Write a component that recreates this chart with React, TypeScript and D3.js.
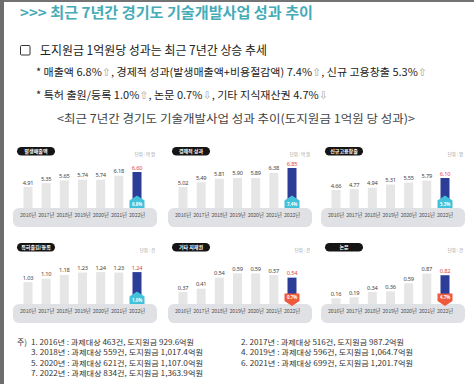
import React from "react";
import * as d3 from "d3";

const years = ["2016년", "2017년", "2018년", "2019년", "2020년", "2021년", "2022년"];

const salesValues = [4.91, 5.35, 5.65, 5.74, 5.74, 6.18, 6.6];
const economicValues = [5.02, 5.49, 5.81, 5.9, 5.89, 6.38, 6.85];
const jobValues = [4.66, 4.77, 4.94, 5.31, 5.55, 5.79, 6.1];
const patentValues = [1.03, 1.1, 1.18, 1.23, 1.24, 1.23, 1.24];
const ipValues = [0.37, 0.41, 0.54, 0.59, 0.59, 0.57, 0.54];
const paperValues = [0.16, 0.19, 0.34, 0.36, 0.59, 0.87, 0.82];

const panelLabels = ["발생매출액", "경제적 성과", "신규고용창출", "특허출원/등록", "기타 지재권", "논문"];
const panelUnits = ["단위 : 억 원", "단위 : 억 원", "단위 : 명", "단위 : 건", "단위 : 건", "단위 : 건"];
const changeLabels = ["6.8%", "7.4%", "5.3%", "1.0%", "0.7%", "4.7%"];
const changeUp = [true, true, true, true, false, false];
// lower / upper ends of each panel's value scale
const scaleFloors = [2.55, 3.0, 2.5, 0.57, 0.23, 0];
const scaleCeils = [7.05, 6.85, 7.3, 1.41, 0.7, 1.14];

const noteYears = ["2016년", "2017년", "2018년", "2019년", "2020년", "2021년", "2022년"];
const noteCounts = ["463", "516", "559", "596", "621", "699", "834"];
const noteFunds = ["929.6", "987.2", "1,017.4", "1,064.7", "1,107.0", "1,201.7", "1,363.9"];

const FONT = "'Noto Sans CJK KR', 'Noto Sans', sans-serif";
const NUM = "'Noto Sans', 'Noto Sans CJK KR', sans-serif";
const ARW = "'DejaVu Sans', sans-serif";

const BAND_TOP = 208;

function Panel({ idx, ox, oy, values }: { idx: number; ox: number; oy: number; values: number[] }) {
  const x = d3.scalePoint<string>().domain(years).range([28, 137]);
  const y = d3.scaleLinear().domain([scaleFloors[idx], scaleCeils[idx]]).range([BAND_TOP, 168]);
  const bw = 9;
  const last = values.length - 1;
  const up = changeUp[idx];
  const cx = x(years[last]) as number;

  return (
    <g transform={`translate(${ox},${oy})`}>
      <rect x={17} y={147} width={38} height={8.5} rx={4.25} fill="#151515" />
      <text x={36} y={153} fontSize={5} fill="#fff" textAnchor="middle" fontWeight={700} fontFamily={FONT}>
        {panelLabels[idx]}
      </text>
      <text x={155} y={156} fontSize={4.4} fill="#9a9a9a" textAnchor="end" fontFamily={FONT}>
        {panelUnits[idx]}
      </text>
      <rect x={13} y={BAND_TOP} width={144} height={19} rx={6} fill="#e0e1e5" />

      {values.slice(0, last).map((v, i) => (
        <g key={i}>
          <rect x={(x(years[i]) as number) - bw / 2} y={y(v)} width={bw} height={BAND_TOP - y(v)} fill="#e6e6e6" />
          <text x={x(years[i])} y={y(v) - 2.5} fontSize={5.7} fill="#444" textAnchor="middle" fontFamily={NUM} letterSpacing={-0.2}>
            {v.toFixed(2)}
          </text>
        </g>
      ))}

      <rect x={cx - bw / 2} y={y(values[last])} width={bw} height={(up ? 200 : 198) - y(values[last])} fill="#2c3d98" />
      <text x={cx} y={y(values[last]) - 2.5} fontSize={5.7} fill="#e2463b" textAnchor="middle" fontFamily={NUM} letterSpacing={-0.2}>
        {values[last].toFixed(2)}
      </text>

      {up ? (
        <polygon
          points={[[cx - 7.5, BAND_TOP], [cx - 7.5, 200.5], [cx, 195.5], [cx + 7.5, 200.5], [cx + 7.5, BAND_TOP]].map(p => p.join(",")).join(" ")}
          fill="#42c1db"
        />
      ) : (
        <polygon
          points={[[cx - 7.5, 197.5], [cx + 7.5, 197.5], [cx + 7.5, 205], [cx, 210], [cx - 7.5, 205]].map(p => p.join(",")).join(" ")}
          fill="#ee5a3c"
        />
      )}
      <text x={cx} y={up ? 206 : 203.3} fontSize={4.4} fill="#fff" textAnchor="middle" fontWeight={700} fontFamily={NUM}>
        {changeLabels[idx]}
      </text>

      {years.map(yr => (
        <text key={yr} x={x(yr)} y={216.7} fontSize={5.3} fill="#555" textAnchor="middle" fontFamily={FONT} letterSpacing={-0.15}>
          {yr}
        </text>
      ))}
    </g>
  );
}

export default function App() {
  const panelValues = [salesValues, economicValues, jobValues, patentValues, ipValues, paperValues];
  const colX = [0, 155, 308];
  const rowY = [0, 96];
  const upArrow = <tspan fill="#a8a8a8" fontFamily={ARW}>⇧</tspan>;
  const downArrow = <tspan fill="#a8a8a8" fontFamily={ARW}>⇩</tspan>;

  return (
    <svg width={474} height={384} style={{ position: "absolute", left: 0, top: 0, background: "#fff" }}>
      <rect x={0} y={0} width={474} height={384} fill="#fff" />
      <rect x={0} y={0} width={474} height={2} fill="#737373" />
      <rect x={0} y={0} width={4} height={384} fill="#6d6d6d" />

      <text x={20} y={18} fontSize={14.5} fontWeight={700} fill="#45abb7" fontFamily={FONT} textLength={293} lengthAdjust="spacingAndGlyphs">
        {">>> 최근 7년간 경기도 기술개발사업 성과 추이"}
      </text>

      <rect x={20.5} y={45.5} width={9.5} height={9.5} rx={1} fill="none" stroke="#333" strokeWidth={1} />
      <text x={40} y={55} fontSize={12.5} fill="#222" fontFamily={FONT} textLength={227} lengthAdjust="spacingAndGlyphs">
        도지원금 1억원당 성과는 최근 7년간 상승 추세
      </text>

      <text x={36} y={76} fontSize={10.5} fill="#222" fontFamily={FONT} textLength={391} lengthAdjust="spacingAndGlyphs">
        * 매출액 6.8%{upArrow}, 경제적 성과(발생매출액+비용절감액) 7.4%{upArrow}, 신규 고용창출 5.3%{upArrow}
      </text>
      <text x={36} y={99} fontSize={10.5} fill="#222" fontFamily={FONT} textLength={292} lengthAdjust="spacingAndGlyphs">
        * 특허 출원/등록 1.0%{upArrow}, 논문 0.7%{downArrow}, 기타 지식재산권 4.7%{downArrow}
      </text>

      <text x={57} y={122.5} fontSize={11.5} fill="#444" fontFamily={FONT} textLength={358} lengthAdjust="spacingAndGlyphs">
        {"<최근 7년간 경기도 기술개발사업 성과 추이(도지원금 1억원 당 성과)>"}
      </text>

      {panelValues.map((vals, i) => (
        <Panel key={i} idx={i} ox={colX[i % 3]} oy={rowY[Math.floor(i / 3)]} values={vals} />
      ))}

      <text x={17} y={345} fontSize={8} fill="#333" fontFamily={FONT}>주)</text>
      {noteYears.map((yr, i) => (
        <text
          key={yr}
          x={i % 2 === 0 ? 31 : 241}
          y={345 + Math.floor(i / 2) * 10.3}
          fontSize={7.4}
          fill="#333"
          fontFamily={FONT}
          textLength={noteFunds[i].length > 5 ? 172 : 163}
          lengthAdjust="spacingAndGlyphs"
        >
          {`${i + 1}. ${yr} : 과제대상 ${noteCounts[i]}건, 도지원금 ${noteFunds[i]}억원`}
        </text>
      ))}
    </svg>
  );
}
